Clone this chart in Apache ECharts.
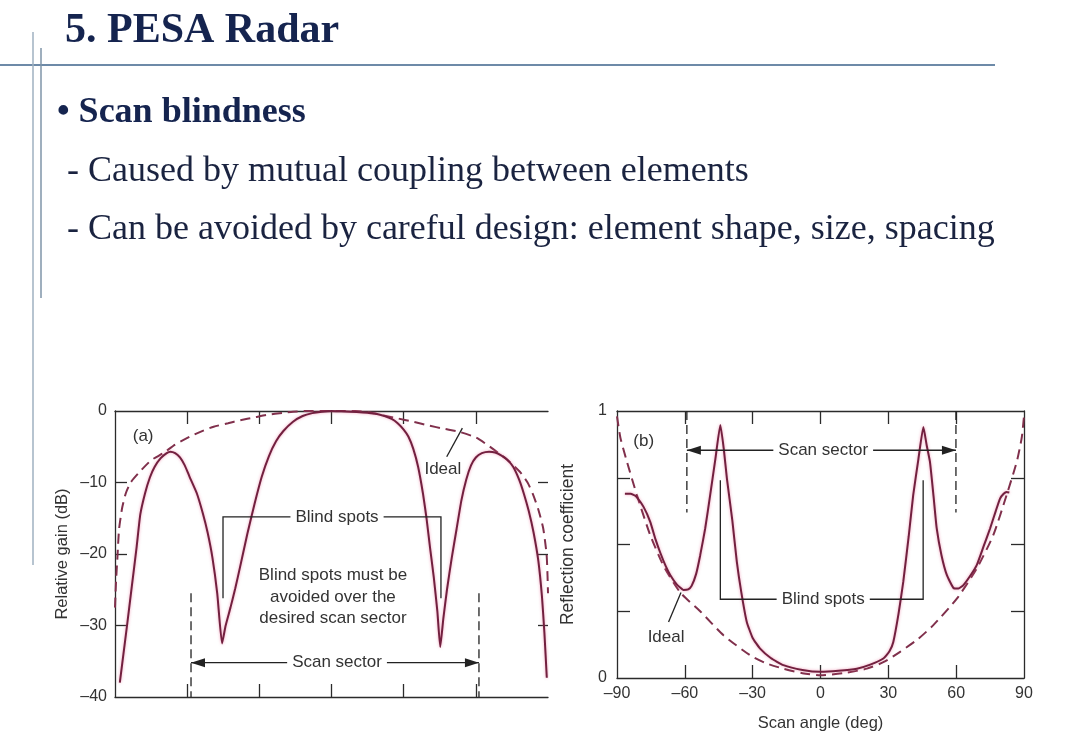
<!DOCTYPE html>
<html><head><meta charset="utf-8">
<script src="https://cdn.jsdelivr.net/npm/echarts@6/dist/echarts.min.js"></script>
<style>html,body{margin:0;padding:0;background:#fff}#c{width:1080px;height:735px}</style>
</head><body><div id="c"></div>
<script>
// ---------- data ----------
const angleTicks = [-90, -60, -30, 0, 30, 60, 90];
const angleInnerTicks = [-60, -30, 0, 30, 60];
const gainTicks = [0, -10, -20, -30, -40];
const gainInnerTicks = [-10, -20, -30];
const reflTickLabels = [0, 1];
const reflInnerTicks = [0.25, 0.5, 0.75];

// (a) relative gain (dB) vs scan angle
const gainSolidAngle = [-88,-86.5,-85,-83,-81,-79.5,-77.5,-75.5,-73.5,-71,-68.5,-67,-65,-63,-61,-59,-56,-53.5,-51.5,-49.5,-47.5,-45.5,-44,-42,-40,-38,-35,-32,-29,-26,-23,-20,-16,-12,-8,-4,0,4,8,13,18,22,25,27.5,30,32,34,36,38,39.5,41,42.5,44,45.2,46.5,48,50,52,54,56,58,60,62.5,65.5,68,70.5,73,75.5,78,80,82,84,86,87.5,88.5,89.5];
const gainSolidValue = [-38,-34,-30,-24.5,-19,-14.5,-11.5,-9.3,-7.8,-6.6,-5.9,-5.7,-5.9,-6.5,-7.6,-9.2,-11.5,-14.3,-17,-20.5,-25.5,-32.5,-30,-27.5,-24.8,-21.8,-17.2,-13,-9.2,-6.3,-4.2,-2.8,-1.5,-0.7,-0.3,-0.1,0,-0.05,-0.1,-0.2,-0.35,-0.7,-1.1,-1.7,-2.6,-3.6,-5.3,-7.8,-11.5,-15,-19.2,-23.2,-28,-33,-29,-25,-20.5,-16.5,-12.5,-9.6,-7.6,-6.5,-5.9,-5.7,-5.8,-6.2,-6.8,-7.8,-9.6,-11.6,-14,-17,-21,-26,-31,-37.3];
const gainIdealAngle = [-90,-89.6,-89,-88.3,-87,-85.5,-83.5,-80,-75,-70,-65,-59,-53,-49,-43,-38,-32,-27,-20,-16,-10,0,10,16,20,27,34,40,47,53,60,65,68.7,73,78.3,81.5,83.8,86,88,89.4,89.8,90];
const gainIdealValue = [-27.5,-24,-20.5,-16.5,-13.5,-11.5,-10,-8.6,-6.9,-5.9,-4.7,-3.6,-2.7,-2.2,-1.7,-1.3,-0.9,-0.56,-0.25,-0.1,0,0,0,-0.2,-0.5,-1.0,-1.5,-2.0,-2.5,-2.9,-3.7,-4.8,-5.7,-6.8,-8.5,-10,-11.7,-13.8,-16.4,-20,-23,-25.5];

// (b) reflection coefficient vs scan angle
const reflSolidAngle = [-86.5,-84,-81.5,-78.2,-75.3,-73,-70.9,-68.5,-66.4,-63.5,-60.6,-58.5,-57,-55,-53.2,-51,-48.8,-46.5,-44.3,-42.8,-41.4,-39,-37,-35,-32.6,-30,-26.7,-22,-16.4,-8,0,8,16.1,22,27.8,30.5,32.2,34.5,36.6,39,41,43.3,45.5,47,48.4,50,51.4,53.5,55.9,58.8,61,63.2,66,69.1,72,75,77.5,79.4,81,82.3,83.5];
const reflSolidValue = [0.69,0.69,0.68,0.64,0.585,0.52,0.47,0.42,0.385,0.35,0.33,0.332,0.345,0.39,0.46,0.56,0.685,0.82,0.948,0.86,0.748,0.59,0.435,0.32,0.21,0.15,0.11,0.075,0.048,0.03,0.023,0.027,0.035,0.05,0.073,0.1,0.135,0.24,0.36,0.53,0.685,0.82,0.94,0.87,0.81,0.68,0.56,0.46,0.385,0.337,0.335,0.348,0.38,0.423,0.49,0.56,0.625,0.672,0.69,0.697,0.695];
const reflIdealAngle = [-90,-88.5,-85.6,-81.2,-75.3,-69.4,-62,-53.2,-42.9,-31.1,-24,-16.4,-8,0,10,20.5,28,35.2,43,49.9,60.3,69.1,76.4,82.3,86.8,89,90];
const reflIdealValue = [0.98,0.9,0.81,0.685,0.535,0.42,0.32,0.25,0.16,0.085,0.055,0.035,0.018,0.01,0.018,0.035,0.06,0.098,0.145,0.198,0.297,0.41,0.535,0.685,0.81,0.9,0.98];

// ---------- chart ----------
const zip = (a, b) => a.map((x, i) => [x, b[i]]);
const dash = v => (v < 0 ? '\u2013' + Math.abs(v) : String(v));
const AX = '#2b2b2b';
const TXT = '#333';
const FONT = '"Liberation Sans", Arial, sans-serif';
const CURVE = '#72203f';
const DASHC = '#80304c';

function xAx(grid, pos, labels, name) {
  return {
    type: 'value', gridIndex: grid, position: pos, min: -90, max: 90, interval: 30,
    axisLine: { show: true, onZero: false, lineStyle: { color: AX, width: 1.3 } },
    axisTick: { show: true, inside: true, length: 13, customValues: angleInnerTicks, lineStyle: { color: AX, width: 1.3 } },
    axisLabel: { show: labels, formatter: dash, color: TXT, fontFamily: FONT, fontSize: 16, margin: 8 },
    splitLine: { show: false },
    name: name || '', nameLocation: 'middle', nameGap: 37,
    nameTextStyle: { color: TXT, fontFamily: FONT, fontSize: 16.5 }
  };
}

const option = {
  animation: false,
  backgroundColor: '#fff',
  grid: [
    { left: 115, top: 411, width: 433, height: 286 },
    { left: 617, top: 411, width: 407, height: 267 }
  ],
  xAxis: [
    xAx(0, 'bottom', false),
    xAx(0, 'top', false),
    xAx(1, 'bottom', true, 'Scan angle (deg)'),
    xAx(1, 'top', false)
  ],
  yAxis: [
    {
      type: 'value', gridIndex: 0, position: 'left', min: -40, max: 0, interval: 10,
      axisLine: { show: true, onZero: false, lineStyle: { color: AX, width: 1.3 } },
      axisTick: { show: true, inside: true, length: 12, customValues: gainInnerTicks, lineStyle: { color: AX, width: 1.3 } },
      axisLabel: { show: true, customValues: gainTicks, formatter: dash, color: TXT, fontFamily: FONT, fontSize: 16, margin: 8 },
      splitLine: { show: false },
      name: 'Relative gain (dB)', nameLocation: 'middle', nameRotate: 90, nameGap: 44,
      nameTextStyle: { color: TXT, fontFamily: FONT, fontSize: 16.5 }
    },
    {
      type: 'value', gridIndex: 0, position: 'right', min: -40, max: 0, interval: 10,
      axisLine: { show: false, onZero: false },
      axisTick: { show: true, inside: true, length: 10, customValues: gainInnerTicks, lineStyle: { color: AX, width: 1.3 } },
      axisLabel: { show: false }, splitLine: { show: false }
    },
    {
      type: 'value', gridIndex: 1, position: 'left', min: 0, max: 1, interval: 0.25,
      axisLine: { show: true, onZero: false, lineStyle: { color: AX, width: 1.3 } },
      axisTick: { show: true, inside: true, length: 13, customValues: reflInnerTicks, lineStyle: { color: AX, width: 1.3 } },
      axisLabel: { show: true, customValues: reflTickLabels, formatter: v => (reflTickLabels.includes(v) ? String(v) : ''), color: TXT, fontFamily: FONT, fontSize: 16, margin: 10 },
      splitLine: { show: false },
      name: 'Reflection coefficient', nameLocation: 'middle', nameRotate: 90, nameGap: 40,
      nameTextStyle: { color: TXT, fontFamily: FONT, fontSize: 17.5 }
    },
    {
      type: 'value', gridIndex: 1, position: 'right', min: 0, max: 1, interval: 0.25,
      axisLine: { show: true, onZero: false, lineStyle: { color: AX, width: 1.3 } },
      axisTick: { show: true, inside: true, length: 13, customValues: reflInnerTicks, lineStyle: { color: AX, width: 1.3 } },
      axisLabel: { show: false }, splitLine: { show: false }
    }
  ],
  series: [
    { type: 'line', xAxisIndex: 0, yAxisIndex: 0, data: zip(gainIdealAngle, gainIdealValue), showSymbol: false, smooth: 0.2, z: 3,
      lineStyle: { color: DASHC, width: 2, type: [10, 6] } },
    { type: 'line', xAxisIndex: 0, yAxisIndex: 0, data: zip(gainSolidAngle, gainSolidValue), showSymbol: false, smooth: 0.15, z: 4,
      lineStyle: { color: CURVE, width: 2, shadowColor: 'rgba(230,80,130,0.55)', shadowBlur: 3 } },
    { type: 'line', xAxisIndex: 2, yAxisIndex: 2, data: zip(reflIdealAngle, reflIdealValue), showSymbol: false, smooth: 0.2, z: 3,
      lineStyle: { color: DASHC, width: 2, type: [10, 6] } },
    { type: 'line', xAxisIndex: 2, yAxisIndex: 2, data: zip(reflSolidAngle, reflSolidValue), showSymbol: false, smooth: 0.15, z: 4,
      lineStyle: { color: CURVE, width: 2, shadowColor: 'rgba(230,80,130,0.55)', shadowBlur: 3 } }
  ]
};

const chart = echarts.init(document.getElementById('c'), null, { renderer: 'canvas' });
chart.setOption(option);

// ---------- annotations (data coordinates, converted through the axes) ----------
const P = (g, pt) => chart.convertToPixel({ xAxisIndex: g * 2, yAxisIndex: g * 2 }, pt);
const LINE = '#222';
const els = [];
function poly(g, pts, dashed) {
  els.push({ type: 'polyline', z: 20, shape: { points: pts.map(p => P(g, p)) },
    style: { stroke: LINE, lineWidth: 1.3, fill: null, lineDash: dashed ? [9, 5] : null } });
}
function text(g, pt, str, bg, size) {
  const p = P(g, pt);
  els.push({ type: 'text', z: 30, x: p[0], y: p[1],
    style: { text: str, fill: '#333', font: (size || 17) + 'px ' + FONT, align: 'center', verticalAlign: 'middle',
      lineHeight: 21.5, backgroundColor: bg ? '#fff' : null, padding: bg ? [0, 5] : 0 } });
}
function arrow(g, a, b) {
  const pa = P(g, a), pb = P(g, b);
  els.push({ type: 'line', z: 20, shape: { x1: pa[0], y1: pa[1], x2: pb[0], y2: pb[1] }, style: { stroke: LINE, lineWidth: 1.3 } });
  els.push({ type: 'polygon', z: 21, shape: { points: [[pa[0], pa[1]], [pa[0] + 14, pa[1] - 4.5], [pa[0] + 14, pa[1] + 4.5]] }, style: { fill: LINE } });
  els.push({ type: 'polygon', z: 21, shape: { points: [[pb[0], pb[1]], [pb[0] - 14, pb[1] - 4.5], [pb[0] - 14, pb[1] + 4.5]] }, style: { fill: LINE } });
}

// (a)
text(0, [-78.3, -3.6], '(a)');
poly(0, [[-45.1, -26.2], [-45.1, -14.8], [45.5, -14.8], [45.5, -26.2]]);
text(0, [2.3, -14.8], 'Blind spots', true);
text(0, [0.6, -26], 'Blind spots must be\navoided over the\ndesired scan sector');
poly(0, [[-58.4, -25.5], [-58.4, -40]], true);
poly(0, [[61.3, -25.5], [61.3, -40]], true);
arrow(0, [-58.4, -35.2], [61.3, -35.2]);
text(0, [2.3, -35.2], 'Scan sector', true);
text(0, [46.3, -8.2], 'Ideal');
poly(0, [[47.9, -6.4], [54.4, -2.4]]);

// (b)
text(1, [-78.2, 0.885], '(b)');
poly(1, [[-59.1, 1], [-59.1, 0.62]], true);
poly(1, [[59.9, 1], [59.9, 0.62]], true);
arrow(1, [-59.1, 0.853], [59.9, 0.853]);
text(1, [1.2, 0.853], 'Scan sector', true);
poly(1, [[-44.3, 0.741], [-44.3, 0.295], [45.4, 0.295], [45.4, 0.741]]);
text(1, [1.2, 0.295], 'Blind spots', true);
text(1, [-68.3, 0.151], 'Ideal');
poly(1, [[-61.7, 0.32], [-67.2, 0.21]]);

// ---------- slide decoration and text ----------
const SERIF = '"Liberation Serif", "Times New Roman", serif';
els.push({ type: 'line', z: 1, shape: { x1: 0, y1: 65, x2: 995, y2: 65 }, style: { stroke: '#6d8aa8', lineWidth: 2 } });
els.push({ type: 'line', z: 1, shape: { x1: 33, y1: 32, x2: 33, y2: 565 }, style: { stroke: '#9fb1c1', lineWidth: 1.5 } });
els.push({ type: 'line', z: 1, shape: { x1: 41, y1: 48, x2: 41, y2: 298 }, style: { stroke: '#7f94a8', lineWidth: 1.5 } });
els.push({ type: 'text', z: 5, x: 65, y: 31, style: { text: '5. PESA Radar', font: 'bold 42px ' + SERIF, fill: '#15244f', verticalAlign: 'middle' } });
els.push({ type: 'text', z: 5, x: 57, y: 113, style: { text: '\u2022 Scan blindness', font: 'bold 36px ' + SERIF, fill: '#15244f', verticalAlign: 'middle' } });
els.push({ type: 'text', z: 5, x: 67, y: 172, style: { text: '- Caused by mutual coupling between elements', font: '36px ' + SERIF, fill: '#1a2340', verticalAlign: 'middle' } });
els.push({ type: 'text', z: 5, x: 67, y: 230, style: { text: '- Can be avoided by careful design: element shape, size, spacing', font: '36px ' + SERIF, fill: '#1a2340', verticalAlign: 'middle' } });

chart.setOption({ graphic: { elements: els } });
</script>
</body></html>
